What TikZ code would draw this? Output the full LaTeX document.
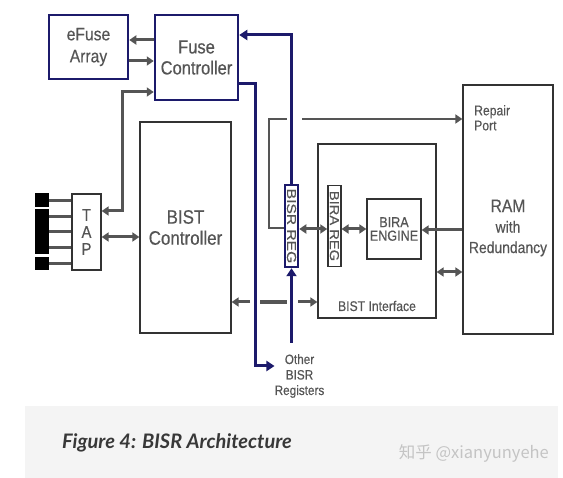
\documentclass[tikz,border=0pt]{standalone}
\usepackage{fontspec}
\usepackage{xcolor}
\newfontfamily\diagfont{Liberation Sans}[FakeStretch=0.87, FakeBold=0.4]
\newfontfamily\regfont{Liberation Sans}[FakeBold=0.3]
\newfontfamily\capfont{Lato}
\newfontfamily\cjkfont{Noto Sans CJK SC}
\usetikzlibrary{arrows.meta, positioning}

\definecolor{navyline}{HTML}{1C1A6B}
\definecolor{arrowgray}{HTML}{555555}
\definecolor{textgray}{HTML}{555555}
\definecolor{boxline}{HTML}{333333}
\definecolor{bandgray}{HTML}{F4F4F4}
\definecolor{captext}{HTML}{383838}
\definecolor{markgray}{HTML}{C4C4C4}

\newcommand{\fsz}[2]{\diagfont\fontsize{#1}{#2}\selectfont}

\begin{document}
\begin{tikzpicture}[x=1pt, y=-1pt,
  box/.style={draw=boxline, line width=1.3pt, rectangle, inner sep=0pt, text=textgray, align=center},
  navybox/.style={draw=navyline, line width=2.5pt, rectangle, inner sep=0pt, text=textgray, align=center},
  garrow/.style={draw=arrowgray, line width=3pt, -{Triangle[length=7pt,width=9pt]}},
  gboth/.style={garrow, {Triangle[length=7pt,width=9pt]}-{Triangle[length=7pt,width=9pt]}},
  nline/.style={draw=navyline, line width=3pt},
  narrow/.style={nline, -{Triangle[length=8pt,width=10pt]}},
  lbl/.style={text=textgray, inner sep=0pt, align=center}
]
\fill[white] (0,0) rectangle (563,478);
\useasboundingbox (0,0) rectangle (563,478);
\fill[bandgray] (25,406) rectangle (558,478);

% Nodes
\node[navybox, minimum width=79pt, minimum height=64pt, font=\fsz{18}{22}] (efuse) at (88.5,47) {eFuse\\Array};
\node[navybox, minimum width=83pt, minimum height=85pt, font=\fsz{19}{21}] (fusectl) at (196.5,57.5) {Fuse\\Controller};
\node[box, minimum width=91pt, minimum height=211pt, font=\fsz{19.5}{21}] (bistctl) at (185.5,227.5) {BIST\\Controller};
\node[box, minimum width=29pt, minimum height=76pt, font=\fsz{17}{17}] (tap) at (86.5,232) {T\\A\\P};
\node[box, minimum width=118pt, minimum height=174pt] (bistif) at (377,231) {};
\node[box, minimum width=90pt, minimum height=249pt] (ram) at (508,209.5) {};
\node[navybox, minimum width=13pt, minimum height=82pt, font=\regfont\fontsize{13}{13}\selectfont] (bisr) at (291.5,226) {\rotatebox{-90}{\scalebox{1.2}[1]{BISR REG}}};
\node[box, minimum width=13pt, minimum height=81pt, right=28pt of bisr, font=\regfont\fontsize{13}{13}\selectfont] (birareg) {\rotatebox{-90}{\scalebox{1.13}[1]{BIRA REG}}};
\node[box, minimum width=54pt, minimum height=60pt, font=\fsz{14.5}{13.5}] (engine) at (394,229) {BIRA\\ENGINE};

% Labels
\node[lbl, font=\fsz{18}{20.5}] (ramtext) at (508,228) {RAM\\{\fontsize{16}{20.5}\selectfont with}\\{\fontsize{16}{20.5}\selectfont Redundancy}};
\node[lbl, anchor=north west, align=left, font=\fsz{14}{15}] (repair) at (474,105) {Repair\\Port};
\node[lbl, font=\fsz{14}{16}] (iflabel) at (377,306) {BIST Interface};
\node[lbl, font=\fsz{13.5}{15.5}] (others) at (299.5,376) {Other\\BISR\\Registers};

% Pins
\fill (35,193) rectangle (49,207);
\fill (35,209) rectangle (49,254);
\fill (35,257) rectangle (49,270);
\foreach \y in {201,217,232,248,264}
  \draw[arrowgray, line width=3pt] (49,\y) -- (tap.west |- 0,\y);

% Arrows
\draw[garrow] (fusectl.west |- 0,40) -- (efuse.east |- 0,40);
\draw[garrow] (efuse.east |- 0,61) -- (fusectl.west |- 0,61);
\draw[gboth] (tap.east |- 0,211) -- (122,211) -- (122,92) -- (fusectl.west |- 0,92);
\draw[gboth] (tap.east |- 0,237) -- (bistctl.west |- 0,237);
\draw[arrowgray, line width=2pt] (bisr.west |- 0,228) -- (269,228) -- (269,119) -- (287,119);
\draw[garrow, line width=2pt] (302,119) -- (ram.west |- 0,119);
\draw[gboth] (bisr.east |- 0,229) -- (birareg.west |- 0,229);
\draw[gboth] (birareg.east |- 0,229) -- (engine.west |- 0,229);
\draw[garrow] (ram.west |- 0,230) -- (engine.east |- 0,230);
\draw[gboth] (bistif.east |- 0,272) -- (ram.west |- 0,272);
\draw[garrow] (250,302) -- (bistctl.east |- 0,302);
\draw[arrowgray, line width=4pt] (260,302) -- (287,302);
\draw[garrow] (298,302) -- (bistif.west |- 0,302);

% Scan chain
\coordinate (bisrfeed) at (bisr.south |- 0,343);
\draw[narrow] (fusectl.east |- 0,84) -- (255,84) -- (255,366) -- (others.west |- 0,366);
\draw[narrow] (bisr.north) -- (bisr.north |- 0,35) -- (fusectl.east |- 0,35);
\draw[narrow] (bisrfeed) -- (bisr.south);

% Caption
\node[anchor=west, text=captext, inner sep=0pt, font=\capfont\bfseries\itshape\fontsize{20}{22}\selectfont] (caption) at (62,443) {Figure 4: BISR Architecture};
\node[anchor=east, text=markgray, inner sep=0pt, font=\cjkfont\fontsize{16.5}{18}\selectfont] (mark) at (549,453) {知乎 @xianyunyehe};
\end{tikzpicture}
\end{document}
